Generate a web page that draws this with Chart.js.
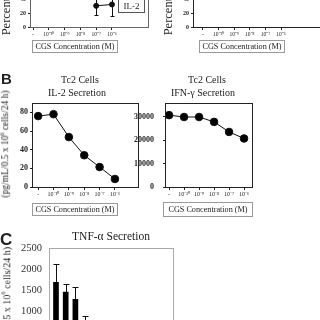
<!DOCTYPE html>
<html>
<head>
<meta charset="utf-8">
<script src="https://cdn.jsdelivr.net/npm/chart.js@4.4.1/dist/chart.umd.min.js"></script>
<style>
  html, body { margin: 0; padding: 0; background: #fff; }
  #fig { position: relative; width: 320px; height: 320px; overflow: hidden; font-family: "Liberation Serif", serif; color: #222; }
  .c { position: absolute; }
  .t { position: absolute; white-space: nowrap; line-height: 1; transform: translate(-50%, -50%); }
  .box { position: absolute; box-sizing: border-box; border: 1px solid #999; display: flex; align-items: center; justify-content: center; white-space: nowrap; font-size: 8.2px; }
  .up { position: absolute; writing-mode: vertical-rl; transform: rotate(180deg); white-space: nowrap; line-height: 1; }
  .letter { position: absolute; font-family: "Liberation Sans", sans-serif; font-weight: bold; line-height: 1; }
</style>
</head>
<body>
<div id="fig">
  <div class="c" style="left:0;top:-60px"><canvas id="aL" width="160" height="100"></canvas></div>
  <div class="c" style="left:160px;top:-60px"><canvas id="aR" width="200" height="100"></canvas></div>
  <div class="c" style="left:0;top:95px"><canvas id="bL" width="145" height="112"></canvas></div>
  <div class="c" style="left:128px;top:95px"><canvas id="bR" width="132" height="112"></canvas></div>
  <div class="c" style="left:0;top:240px"><canvas id="cT" width="180" height="140"></canvas></div>

  <div class="up" style="left:0;bottom:285px;font-size:12.5px">Percent of Control</div>
  <div class="up" style="left:162px;bottom:285px;font-size:12.5px">Percent of Control</div>
  <div class="box" style="left:118px;top:-2px;width:27px;height:15px;border-color:#555;font-size:9px">IL-2</div>
  <div class="box" style="left:32px;top:40px;width:86px;height:13px">CGS Concentration (M)</div>
  <div class="box" style="left:199px;top:40px;width:86px;height:13px">CGS Concentration (M)</div>

  <div class="letter" style="left:1px;top:71px;font-size:15px">B</div>
  <div class="t" style="left:80px;top:79.5px;font-size:10px">Tc2 Cells</div>
  <div class="t" style="left:77px;top:93px;font-size:10px">IL-2 Secretion</div>
  <div class="t" style="left:207px;top:79.5px;font-size:10px">Tc2 Cells</div>
  <div class="t" style="left:203px;top:93px;font-size:10px">IFN-γ Secretion</div>
  <div class="t" style="left:5px;top:144px;font-size:9.5px;transform:translate(-50%,-50%) rotate(-90deg)">(pg/mL/0.5 x 10<sup style="font-size:6px">6</sup> cells/24 h)</div>
  <div class="box" style="left:32px;top:203px;width:86px;height:13px">CGS Concentration (M)</div>
  <div class="box" style="left:163px;top:202px;width:90px;height:15px">CGS Concentration (M)</div>

  <div class="letter" style="left:0;top:231px;font-size:17px">C</div>
  <div class="t" style="left:111px;top:237px;font-size:11.5px">TNF-α Secretion</div>
  <div class="up" style="left:0;top:247px;font-size:10px">(pg/mL/0.5 x 10<sup style="font-size:6.5px">6</sup> cells/24 h)</div>
</div>

<script>
  const concLabels = ["-", "10⁻¹⁰", "10⁻⁹", "10⁻⁸", "10⁻⁷", "10⁻⁶"];

  // panel A, only the lower part of the plot is in the picture
  const aTicks = [0, 20, 40, 60, 80, 100, 120];
  const aIl2Percent = [null, null, null, null, 31, 33];
  const aIl2Err = [null, null, null, null, 14, 17];

  // panel B
  const bIl2Ticks = [0, 20, 40, 60, 80];
  const bIl2 = [76, 78, 53.5, 34, 21.4, 8.6];
  const bIfngTicks = [0, 10000, 20000, 30000];
  const bIfng = [30800, 30000, 30000, 27900, 23600, 20800];

  // panel C
  const cTicks = [0, 500, 1000, 1500, 2000, 2500];
  const cDoses = [0, 1, 2, 3];
  const cTnf = [1690, 1460, 1290, 750];
  const cTnfErr = [430, 180, 290, 150];

  const serif = "'Liberation Serif', serif";
  const ink = "#222";

  const boxPlugin = {
    id: "box",
    afterDraw(chart, args, opts) {
      if (!opts.color) {
        return;
      }
      const { ctx, chartArea: a } = chart;
      ctx.save();
      ctx.strokeStyle = opts.color;
      ctx.lineWidth = 1;
      ctx.strokeRect(Math.round(a.left) + 0.5, Math.round(a.top) + 0.5,
        Math.round(a.right - a.left), Math.round(a.bottom - a.top));
      ctx.restore();
    },
  };

  const errPlugin = {
    id: "err",
    afterDatasetsDraw(chart) {
      const ctx = chart.ctx;
      chart.data.datasets.forEach((ds, di) => {
        if (!ds.errors) {
          return;
        }
        const meta = chart.getDatasetMeta(di);
        const ys = chart.scales[meta.yAxisID];
        ctx.save();
        ctx.strokeStyle = "#111";
        ctx.lineWidth = 1;
        meta.data.forEach((el, i) => {
          const point = ds.data[i];
          const val = point && typeof point === "object" ? point.y : point;
          const e = ds.errors[i];
          if (val == null || e == null) {
            return;
          }
          const x = Math.round(el.x) + 0.5;
          const cap = ds.errorCap || 2;
          const top = Math.round(ys.getPixelForValue(val + e)) + 0.5;
          const bot = ds.errorBoth ? Math.round(ys.getPixelForValue(val - e)) + 0.5 : el.y;
          ctx.beginPath();
          ctx.moveTo(x, top);
          ctx.lineTo(x, bot);
          ctx.moveTo(x - cap, top);
          ctx.lineTo(x + cap, top);
          if (ds.errorBoth) {
            ctx.moveTo(x - cap, bot);
            ctx.lineTo(x + cap, bot);
          }
          ctx.stroke();
        });
        ctx.restore();
      });
    },
  };

  Chart.register(boxPlugin, errPlugin);

  function xAxis(min, max, fontSize, height) {
    return {
      type: "linear",
      min,
      max,
      offset: false,
      afterBuildTicks: (s) => { s.ticks = concLabels.map((_, i) => ({ value: i })); },
      afterFit: (s) => { s.height = height; },
      ticks: {
        autoSkip: false,
        maxRotation: 0,
        padding: 1,
        color: ink,
        font: { family: serif, size: fontSize },
        callback: (v) => concLabels[v] ?? "",
      },
      grid: { drawOnChartArea: false, tickLength: 3, color: ink },
      border: { color: ink },
    };
  }

  function yAxis(max, tickValues, width, fontSize, pad) {
    return {
      min: 0,
      max,
      afterBuildTicks: (s) => { s.ticks = tickValues.map((v) => ({ value: v })); },
      afterFit: (s) => {
        s.width = width;
        s.paddingTop = 0;
        s.paddingBottom = 0;
      },
      ticks: {
        padding: pad,
        color: ink,
        font: { family: serif, size: fontSize, weight: "bold" },
        callback: (v) => String(v),
      },
      grid: { drawOnChartArea: false, tickLength: 2, color: ink },
      border: { color: ink },
    };
  }

  const baseOptions = {
    responsive: false,
    animation: false,
    events: [],
    plugins: { legend: { display: false }, tooltip: { enabled: false } },
  };

  function toPoints(values) {
    return values.map((v, i) => ({ x: i, y: v }));
  }

  new Chart(document.getElementById("aL"), {
    type: "line",
    data: {
      datasets: [{
        data: toPoints(aIl2Percent),
        errors: aIl2Err,
        errorBoth: true,
        errorCap: 2,
        borderColor: "#111",
        borderWidth: 1,
        backgroundColor: "#111",
        pointRadius: 2.5,
        spanGaps: false,
      }],
    },
    options: {
      ...baseOptions,
      layout: { padding: { top: 3, right: 12, left: 0, bottom: 0 } },
      plugins: { ...baseOptions.plugins, box: { color: "#666" } },
      scales: {
        x: xAxis(-0.19, 7.28, 5.5, 13),
        y: yAxis(120, aTicks, 30, 6, 2),
      },
    },
  });

  new Chart(document.getElementById("aR"), {
    type: "line",
    data: { datasets: [] },
    options: {
      ...baseOptions,
      layout: { padding: { top: 3, right: 0, left: 0, bottom: 0 } },
      scales: {
        x: xAxis(-0.64, 10.06, 5.5, 13),
        y: yAxis(120, aTicks, 33, 6, 2),
      },
    },
  });

  new Chart(document.getElementById("bL"), {
    type: "line",
    data: {
      datasets: [{
        data: toPoints(bIl2),
        borderColor: "#111",
        borderWidth: 1,
        backgroundColor: "#000",
        pointRadius: 3.8,
      }],
    },
    options: {
      ...baseOptions,
      layout: { padding: { top: 8, right: 7, left: 0, bottom: 0 } },
      plugins: { ...baseOptions.plugins, box: { color: "#222" } },
      scales: {
        x: xAxis(-0.4, 6.5, 6, 20),
        y: yAxis(90, bIl2Ticks, 32, 8, 2),
      },
    },
  });

  new Chart(document.getElementById("bR"), {
    type: "line",
    data: {
      datasets: [{
        data: toPoints(bIfng),
        borderColor: "#111",
        borderWidth: 1,
        backgroundColor: "#000",
        pointRadius: 3.8,
      }],
    },
    options: {
      ...baseOptions,
      layout: { padding: { top: 8, right: 8, left: 0, bottom: 0 } },
      plugins: { ...baseOptions.plugins, box: { color: "#222" } },
      scales: {
        x: xAxis(-0.27, 5.53, 6, 20),
        y: yAxis(36000, bIfngTicks, 37, 8, 9),
      },
    },
  });

  new Chart(document.getElementById("cT"), {
    type: "bar",
    data: {
      datasets: [{
        data: cDoses.map((d, i) => ({ x: d, y: cTnf[i] })),
        errors: cTnfErr,
        errorCap: 3,
        backgroundColor: "#000",
        barThickness: 5,
      }],
    },
    options: {
      ...baseOptions,
      layout: { padding: { top: 8, right: 7, left: 0, bottom: 0 } },
      plugins: { ...baseOptions.plugins, box: { color: "#aaa" } },
      scales: {
        x: {
          type: "linear",
          min: -0.72,
          max: 12.06,
          offset: false,
          afterFit: (s) => { s.height = 26; },
          ticks: { display: false },
          grid: { display: false, offset: false },
          border: { display: false },
        },
        y: {
          min: 0,
          max: 2500,
          afterBuildTicks: (s) => { s.ticks = cTicks.map((v) => ({ value: v })); },
          afterFit: (s) => {
            s.width = 49;
            s.paddingTop = 0;
            s.paddingBottom = 0;
          },
          ticks: {
            padding: 7,
            color: "#333",
            font: { family: serif, size: 10.5 },
            callback: (v) => String(v),
          },
          grid: { display: false, drawTicks: false },
          border: { display: false },
        },
      },
    },
  });
</script>
</body>
</html>
